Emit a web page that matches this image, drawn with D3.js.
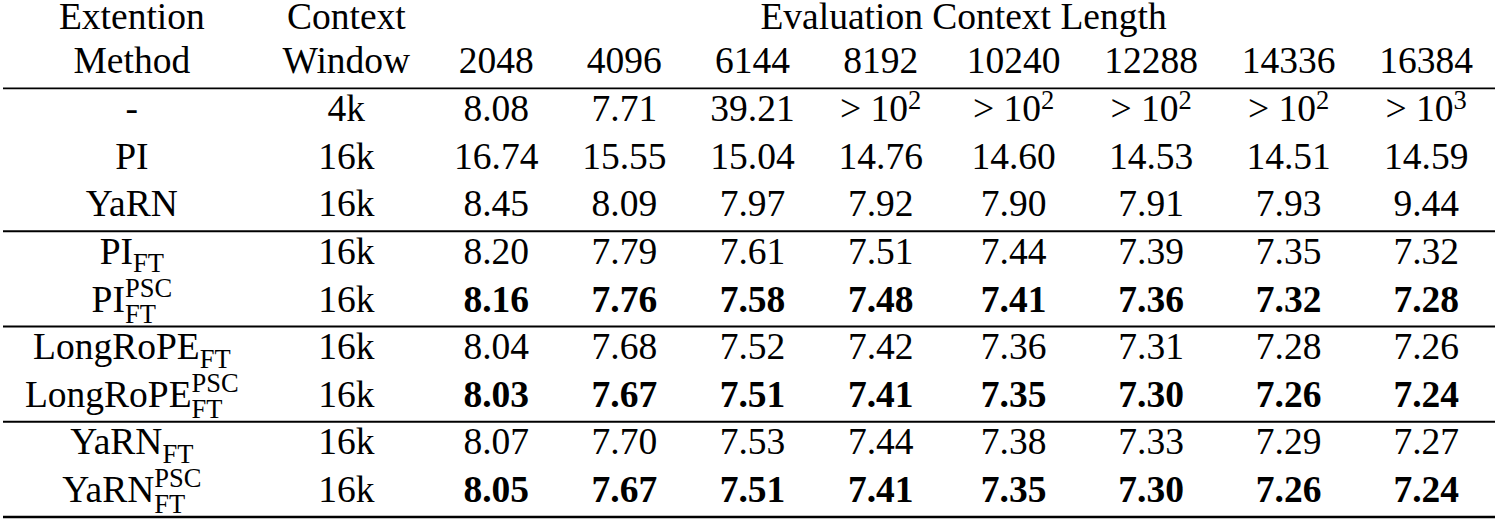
<!DOCTYPE html>
<html>
<head>
<meta charset="utf-8">
<script src="https://cdn.jsdelivr.net/npm/d3@7"></script>
<style>
  body { margin: 0; background: #fff; }
  text { font-family: "Liberation Serif", "Times New Roman", serif; fill: #000; }
</style>
</head>
<body>
<div id="vis"></div>
<script>
// table content
let methodBase = ['-', 'PI', 'YaRN', 'PI', 'PI', 'LongRoPE', 'LongRoPE', 'YaRN', 'YaRN'];
let methodSub = ['', '', '', 'FT', 'FT', 'FT', 'FT', 'FT', 'FT'];
let methodSup = ['', '', '', '', 'PSC', '', 'PSC', '', 'PSC'];
let contextWindow = ['4k', '16k', '16k', '16k', '16k', '16k', '16k', '16k', '16k'];
let evalLengths = ['2048', '4096', '6144', '8192', '10240', '12288', '14336', '16384'];

// perplexity per row; '^' marks an exponent
let ppl = [
  ['8.08', '7.71', '39.21', '> 10^2', '> 10^2', '> 10^2', '> 10^2', '> 10^3'],
  ['16.74', '15.55', '15.04', '14.76', '14.60', '14.53', '14.51', '14.59'],
  ['8.45', '8.09', '7.97', '7.92', '7.90', '7.91', '7.93', '9.44'],
  ['8.20', '7.79', '7.61', '7.51', '7.44', '7.39', '7.35', '7.32'],
  ['8.16', '7.76', '7.58', '7.48', '7.41', '7.36', '7.32', '7.28'],
  ['8.04', '7.68', '7.52', '7.42', '7.36', '7.31', '7.28', '7.26'],
  ['8.03', '7.67', '7.51', '7.41', '7.35', '7.30', '7.26', '7.24'],
  ['8.07', '7.70', '7.53', '7.44', '7.38', '7.33', '7.29', '7.27'],
  ['8.05', '7.67', '7.51', '7.41', '7.35', '7.30', '7.26', '7.24']
];
let boldRows = [4, 6, 8];
let ruleAfter = [2, 4, 6];

let width = 1499;
let height = 521;
let fontSize = 37.5;
let scriptSize = 26.5;
let tableLeft = 3;
let tableRight = 1495;

let svg = d3.select('#vis').append('svg')
  .attr('width', width)
  .attr('height', height);
let g = svg.append('g');

// measure a string the way it will be drawn
let probe = g.append('text').attr('opacity', 0);
function measure(str, size, bold) {
  probe.attr('font-size', size).attr('font-weight', bold ? 'bold' : 'normal').text(str);
  return probe.node().getComputedTextLength();
}

// split "> 10^2" into base and exponent
function splitPow(s) {
  let parts = s.split('^');
  return { base: parts[0], sup: parts[1] || '', sub: '' };
}

function pieceWidth(p, bold) {
  let w = measure(p.base, fontSize, bold);
  let extra = Math.max(p.sup ? measure(p.sup, scriptSize, bold) : 0,
    p.sub ? measure(p.sub, scriptSize, bold) : 0);
  return w + extra;
}

let methodPieces = methodBase.map((b, i) => ({ base: b, sub: methodSub[i], sup: methodSup[i] }));

// column widths like a LaTeX tabular: widest entry + equal padding
let colKeys = ['method', 'window'].concat(evalLengths);
let colWidths = [
  d3.max(methodPieces.concat([{ base: 'Extention' }, { base: 'Method' }]), p => pieceWidth(p, false)),
  d3.max(contextWindow.concat(['Context', 'Window']), s => measure(s, fontSize, false))
];
evalLengths.forEach(function (len, j) {
  let cells = ppl.map((row, i) => pieceWidth(splitPow(row[j]), boldRows.includes(i)));
  colWidths.push(Math.max(measure(len, fontSize, false), d3.max(cells)));
});
let pad = (tableRight - tableLeft - d3.sum(colWidths)) / colKeys.length;
let edges = [tableLeft];
colWidths.forEach((w, i) => edges.push(edges[i] + w + pad));
let centers = colWidths.map((w, i) => (edges[i] + edges[i + 1]) / 2);

let xCol = d3.scaleOrdinal().domain(colKeys).range(centers);
// baseline per body row; the header rows sit above row 0
let yRow = d3.scaleLinear().domain([0, 8]).range([121, 502]);
let headerY = [29, yRow(-1)];
let ruleGap = 15;

probe.remove();

// draws base text with optional sup/sub, centred on cx
function drawCell(cx, y, p, bold, supShift, subShift) {
  let cell = g.append('g').attr('class', 'cell');
  let weight = bold ? 'bold' : 'normal';
  let base = cell.append('text')
    .attr('y', y)
    .attr('font-size', fontSize)
    .attr('font-weight', weight)
    .text(p.base);
  let w = base.node().getComputedTextLength();
  let extra = 0;
  if (p.sup) {
    let s = cell.append('text')
      .attr('x', w).attr('y', y - supShift)
      .attr('font-size', scriptSize)
      .attr('font-weight', weight)
      .text(p.sup);
    extra = Math.max(extra, s.node().getComputedTextLength());
  }
  if (p.sub) {
    let s = cell.append('text')
      .attr('x', w).attr('y', y + subShift)
      .attr('font-size', scriptSize)
      .attr('font-weight', weight)
      .text(p.sub);
    extra = Math.max(extra, s.node().getComputedTextLength());
  }
  cell.attr('transform', 'translate(' + (cx - (w + extra) / 2) + ',0)');
}

// header
drawCell(xCol('method'), headerY[0], { base: 'Extention' }, false);
drawCell(xCol('window'), headerY[0], { base: 'Context' }, false);
drawCell((edges[2] + edges[edges.length - 1]) / 2, headerY[0], { base: 'Evaluation Context Length' }, false);
drawCell(xCol('method'), headerY[1], { base: 'Method' }, false);
drawCell(xCol('window'), headerY[1], { base: 'Window' }, false);
evalLengths.forEach(len => drawCell(xCol(len), headerY[1], { base: len }, false));

// body
methodPieces.forEach(function (p, i) {
  drawCell(xCol('method'), yRow(i), p, false, 15, p.sup ? 11 : 8.5);
  drawCell(xCol('window'), yRow(i), { base: contextWindow[i] }, false);
  ppl[i].forEach(function (v, j) {
    drawCell(xCol(evalLengths[j]), yRow(i), splitPow(v), boldRows.includes(i), 12.5, 0);
  });
});

// rules
let rules = [{ row: -1, w: 1.8 }].concat(ruleAfter.map(r => ({ row: r, w: 1.8 })), [{ row: 8, w: 2.6 }]);
g.selectAll('line.rule')
  .data(rules)
  .enter().append('line')
  .attr('class', 'rule')
  .attr('x1', tableLeft)
  .attr('x2', tableRight)
  .attr('y1', d => yRow(d.row) + ruleGap)
  .attr('y2', d => yRow(d.row) + ruleGap)
  .attr('stroke', '#000')
  .attr('stroke-width', d => d.w);
</script>
</body>
</html>
